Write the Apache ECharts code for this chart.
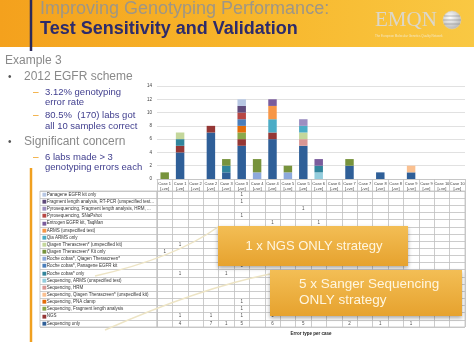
<!DOCTYPE html>
<html><head><meta charset="utf-8">
<script src="https://cdn.jsdelivr.net/npm/echarts@6/dist/echarts.min.js"></script>
<style>html,body{margin:0;padding:0;background:#fff;}#c{width:474px;height:355px;}</style>
</head><body><div id="c"></div>
<script>
// ---------- data ----------
const categories = [
  'Case 1\n[+ve]','Case 1\n[-ve]','Case 2\n[+ve]','Case 2\n[-ve]','Case 3\n[+ve]',
  'Case 3\n[-ve]','Case 4\n[+ve]','Case 4\n[-ve]','Case 5\n[+ve]','Case 5\n[-ve]',
  'Case 6\n[+ve]','Case 6\n[-ve]','Case 7\n[+ve]','Case 7\n[-ve]','Case 8\n[+ve]',
  'Case 8\n[-ve]','Case 9\n[+ve]','Case 9\n[-ve]','Case 10\n[+ve]','Case 10\n[-ve]'
];
const yAxisMax = 14;
const yAxisStep = 2;

const rowNames = [
  'Panagene EGFR kit only',
  'Fragment length analysis, RT-PCR (unspecified test), HRM',
  'Pyrosequencing, Fragment length analysis, HRM, SNaPshot',
  'Pyrosequencing, SNaPshot',
  'Entrogen EGFR kit, TaqMan',
  'ARMS (unspecified test)',
  'Qia ARMS only',
  'Qiagen Therascreen* (unspecified kit)',
  'Qiagen Therascreen* Kit only',
  'Roche cobas*, Qiagen Therascreen*',
  'Roche cobas*, Panagene EGFR kit',
  'Roche cobas* only',
  'Sequencing, ARMS (unspecified test)',
  'Sequencing, HRM',
  'Sequencing, Qiagen Therascreen* (unspecified kit)',
  'Sequencing, PNA clamp',
  'Sequencing, Fragment length analysis',
  'NGS',
  'Sequencing only'
];
const rowColors = [
  '#B7C7E3','#5F4A7B','#9C8EC1','#B84744','#7A5C9C','#F79646','#4BACC6','#C4D79B','#77933C','#8DA9DB',
  '#4A7EBB','#31859C','#93CDDD','#D99694','#FAC090','#E46C0A','#8AA84A','#953735','#2F5F98'
];

const panageneOnly    = [0,0,0,0,0,1,0,0,0,0,0,0,0,0,0,0,0,0,0,0];
const fragRtpcrHrm    = [0,0,0,0,0,1,0,0,0,0,0,0,0,0,0,0,0,0,0,0];
const pyroFragHrmSnap = [0,0,0,0,0,0,0,0,0,1,0,0,0,0,0,0,0,0,0,0];
const pyroSnap        = [0,0,0,0,0,1,0,0,0,0,0,0,0,0,0,0,0,0,0,0];
const entrogenTaqman  = [0,0,0,0,0,0,0,1,0,0,1,0,0,0,0,0,0,0,0,0];
const armsUnspec      = [0,0,0,0,0,0,0,2,0,0,0,0,0,0,0,0,0,0,0,0];
const qiaArmsOnly     = [0,0,0,0,0,0,0,2,0,1,0,0,0,0,0,0,0,0,0,0];
const theraUnspec     = [0,1,0,0,0,0,0,0,0,1,0,0,0,0,0,0,0,0,0,0];
const theraKitOnly    = [1,0,0,0,1,0,2,0,1,0,0,0,1,0,0,0,0,0,0,0];
const cobasThera      = [0,0,0,0,0,0,1,0,1,0,0,0,0,0,0,0,0,0,0,0];
const cobasPanagene   = [0,0,0,0,0,1,0,0,0,0,0,0,0,0,0,0,0,0,0,0];
const cobasOnly       = [0,1,0,0,1,0,0,0,0,0,1,0,0,0,0,0,0,0,0,0];
const seqArms         = [0,0,0,0,0,0,0,0,0,0,1,0,0,0,0,0,0,0,0,0];
const seqHrm          = [0,0,0,0,0,0,0,0,0,1,0,0,0,0,0,0,0,0,0,0];
const seqThera        = [0,0,0,0,0,0,0,0,0,0,0,0,0,0,0,0,1,0,0,0];
const seqPna          = [0,0,0,0,0,1,0,0,0,0,0,0,0,0,0,0,0,0,0,0];
const seqFrag         = [0,0,0,0,0,1,0,0,0,0,0,0,0,0,0,0,0,0,0,0];
const ngs             = [0,1,0,1,0,1,0,1,0,0,0,0,0,0,0,0,0,0,0,0];
const seqOnly         = [0,4,0,7,1,5,0,6,0,5,0,0,2,0,1,0,1,0,0,0];

const rowValues = [panageneOnly, fragRtpcrHrm, pyroFragHrmSnap, pyroSnap, entrogenTaqman,
  armsUnspec, qiaArmsOnly, theraUnspec, theraKitOnly, cobasThera, cobasPanagene, cobasOnly,
  seqArms, seqHrm, seqThera, seqPna, seqFrag, ngs, seqOnly];

// ---------- chart ----------
const FONT = 'Liberation Sans, Arial, sans-serif';
const GRID = '#BFBFBF';
const chart = echarts.init(document.getElementById('c'), null, {renderer: 'canvas'});

const series = [];
for (let i = rowNames.length - 1; i >= 0; i--) {
  series.push({
    type: 'bar', name: rowNames[i], stack: 'errors', xAxisIndex: 0, yAxisIndex: 0,
    data: rowValues[i], itemStyle: {color: rowColors[i]}, barWidth: '55%', silent: true
  });
}
const cellData = [];
rowValues.forEach((arr, r) => arr.forEach((v, c) => { if (v) cellData.push([c, r, v]); }));
series.push({
  type: 'scatter', xAxisIndex: 1, yAxisIndex: 1, data: cellData, symbolSize: 1, silent: true,
  itemStyle: {color: 'rgba(0,0,0,0)'},
  label: {show: true, position: 'inside', formatter: p => p.value[2], fontSize: 4.5, color: '#222', fontFamily: FONT}
});
series.push({type: 'scatter', xAxisIndex: 2, yAxisIndex: 2, data: [], silent: true});

const rich = {t: {fontSize: 4.5, color: '#333', fontFamily: FONT}};
rowColors.forEach((c, i) => { rich['k' + i] = {fontSize: 5, color: c, fontFamily: 'DejaVu Sans'}; });

function T(text, x, y, size, color, weight, extra) {
  return Object.assign({type: 'text', z: 50, style: Object.assign({text, x, y, fill: color,
    font: (weight || 'normal') + ' ' + size + 'px ' + FONT, verticalAlign: 'middle'}, extra || {})});
}

const graphic = [
  {type: 'rect', z: 1, shape: {x: 0, y: 0, width: 474, height: 47},
   style: {fill: new echarts.graphic.LinearGradient(0, 0, 1, 0, [
     {offset: 0, color: '#F4A11D'}, {offset: 0.5, color: '#F7B52A'}, {offset: 1, color: '#F9C843'}])}},
  {type: 'line', z: 5, shape: {x1: 31, y1: 0, x2: 31, y2: 51}, style: {stroke: '#2A2A5A', lineWidth: 2.5}},
  {type: 'line', z: 5, shape: {x1: 31, y1: 168, x2: 31, y2: 342}, style: {stroke: '#F0A020', lineWidth: 2.5}},
  T('Improving Genotyping Performance:', 40, 9, 18, '#9E9686'),
  T('Test Sensitivity and Validation', 40, 29, 18, '#2D2B6B', 'bold'),
  {type: 'text', z: 50, style: {text: 'EMQN', x: 375, y: 20, fill: '#DCD7CA', font: '21px Liberation Serif, serif',
    verticalAlign: 'middle', shadowColor: 'rgba(120,80,0,0.4)', shadowBlur: 2, shadowOffsetX: 1, shadowOffsetY: 1}},
  {type: 'circle', z: 50, shape: {cx: 452, cy: 20, r: 9},
   style: {fill: new echarts.graphic.RadialGradient(0.4, 0.35, 0.8, [
     {offset: 0, color: '#FFFFFF'}, {offset: 1, color: '#A8A8A8'}]), stroke: '#D8D0C0', lineWidth: 0.5}},
  {type: 'line', z: 51, shape: {x1: 444, y1: 16, x2: 460, y2: 16}, style: {stroke: '#8A8A8A', lineWidth: 0.6}},
  {type: 'line', z: 51, shape: {x1: 443, y1: 20, x2: 461, y2: 20}, style: {stroke: '#8A8A8A', lineWidth: 0.6}},
  {type: 'line', z: 51, shape: {x1: 444, y1: 24, x2: 460, y2: 24}, style: {stroke: '#8A8A8A', lineWidth: 0.6}},
  T('The European Molecular Genetics Quality Network', 375, 36, 3, '#F3E6C0'),

  T('Example 3', 5, 61, 12, '#8A8A8A'),
  T('•', 8, 77, 10, '#555555'),
  T('2012 EGFR scheme', 24, 77, 12, '#8A8A8A'),
  T('–', 33, 92, 10, '#F0A020'),
  T('3.12% genotyping', 45, 92, 9.5, '#403E8E'),
  T('error rate', 45, 102, 9.5, '#403E8E'),
  T('–', 33, 115, 10, '#F0A020'),
  T('80.5%  (170) labs got', 45, 115, 9.5, '#403E8E'),
  T('all 10 samples correct', 45, 126, 9.5, '#403E8E'),
  T('•', 8, 142, 10, '#555555'),
  T('Significant concern', 24, 142, 12, '#8A8A8A'),
  T('–', 33, 157, 10, '#F0A020'),
  T('6 labs made > 3', 45, 157, 9.5, '#403E8E'),
  T('genotyping errors each', 45, 167, 9.5, '#403E8E'),

  {type: 'bezierCurve', z: 90, shape: {x1: 218, y1: 227, cpx1: 175, cpy1: 258, x2: 95, y2: 276},
   style: {stroke: '#EDE4C4', lineWidth: 1.5, fill: null}},
  {type: 'bezierCurve', z: 90, shape: {x1: 270, y1: 274, cpx1: 200, cpy1: 288, x2: 105, y2: 330},
   style: {stroke: '#EDE4C4', lineWidth: 1.5, fill: null}},

  {type: 'rect', z: 100, shape: {x: 218, y: 226, width: 190, height: 40},
   style: {fill: new echarts.graphic.LinearGradient(0, 0, 0, 1, [
     {offset: 0, color: '#F3BE55'}, {offset: 1, color: '#E6A22E'}]),
     shadowColor: 'rgba(0,0,0,0.35)', shadowBlur: 4, shadowOffsetY: 2}},
  {type: 'text', z: 101, style: {text: '1 x NGS ONLY strategy', x: 314, y: 246, fill: '#FFF6E0',
    font: '13px ' + FONT, align: 'center', verticalAlign: 'middle'}},
  {type: 'rect', z: 100, shape: {x: 270, y: 270, width: 192, height: 46},
   style: {fill: new echarts.graphic.LinearGradient(0, 0, 0, 1, [
     {offset: 0, color: '#F3BE55'}, {offset: 1, color: '#E6A22E'}]),
     shadowColor: 'rgba(0,0,0,0.35)', shadowBlur: 4, shadowOffsetY: 2}},
  {type: 'text', z: 101, style: {text: '5 x Sanger Sequencing', x: 299, y: 284, fill: '#FFF6E0',
    font: '13.5px ' + FONT, verticalAlign: 'middle'}},
  {type: 'text', z: 101, style: {text: 'ONLY strategy', x: 299, y: 300, fill: '#FFF6E0',
    font: '13.5px ' + FONT, verticalAlign: 'middle'}}
];

chart.setOption({
  animation: false,
  backgroundColor: '#FFFFFF',
  textStyle: {fontFamily: FONT},
  grid: [
    {left: 157, width: 308, top: 86, height: 93},
    {left: 157, width: 308, top: 191, height: 136, show: true, borderColor: GRID, borderWidth: 0.8},
    {left: 40, width: 117, top: 191, height: 136, show: true, borderColor: GRID, borderWidth: 0.8}
  ],
  xAxis: [
    {type: 'category', gridIndex: 0, data: categories,
     axisLine: {lineStyle: {color: GRID, width: 0.8}},
     axisTick: {show: true, length: 12, interval: 0, lineStyle: {color: GRID, width: 0.8}},
     axisLabel: {interval: 0, fontSize: 4, lineHeight: 5, color: '#404040', margin: 2}},
    {type: 'category', gridIndex: 1, data: categories, position: 'bottom',
     axisLine: {show: false}, axisTick: {show: false}, axisLabel: {show: false},
     splitLine: {show: true, interval: 0, lineStyle: {color: GRID, width: 0.8}},
     name: 'Error type per case', nameLocation: 'middle', nameGap: 4,
     nameTextStyle: {fontSize: 4.5, fontWeight: 'bold', color: '#222'}},
    {type: 'value', gridIndex: 2, show: false}
  ],
  yAxis: [
    {type: 'value', gridIndex: 0, min: 0, max: yAxisMax, interval: yAxisStep,
     axisLine: {show: false}, axisTick: {show: false},
     axisLabel: {fontSize: 4.5, color: '#404040', margin: 5},
     splitLine: {lineStyle: {color: '#D9D9D9', width: 0.8}}},
    {type: 'category', gridIndex: 1, data: rowNames, inverse: true,
     axisLine: {show: false}, axisTick: {show: false}, axisLabel: {show: false},
     splitLine: {show: true, interval: 0, lineStyle: {color: GRID, width: 0.8}}},
    {type: 'category', gridIndex: 2, data: rowNames, inverse: true,
     axisLine: {show: false}, axisTick: {show: false},
     axisLabel: {inside: true, margin: 2, interval: 0, width: 113, overflow: 'truncate',
       formatter: (v, i) => '{k' + i + '|■}{t|' + v + '}', rich},
     splitLine: {show: true, interval: 0, lineStyle: {color: GRID, width: 0.8}}}
  ],
  graphic,
  series
});
</script></body></html>
